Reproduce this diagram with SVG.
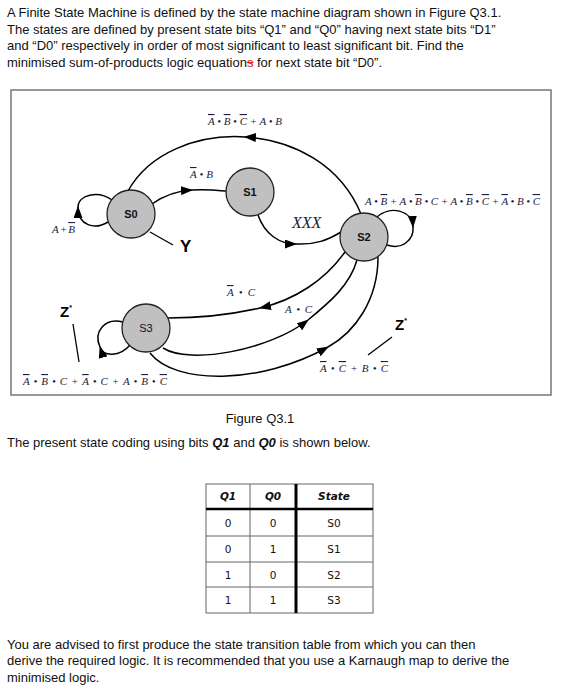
<svg xmlns="http://www.w3.org/2000/svg" width="580" height="690" viewBox="0 0 580 690">
<style>
.body{font-family:"Liberation Sans",Arial,sans-serif;font-size:13px;fill:#111}
.lbl{font-family:"Liberation Serif","Times New Roman",serif;font-style:italic;font-size:11px;fill:#1c1c3c}
.ov{text-decoration:overline}
.node circle{fill:#c0c0c0;stroke:#222;stroke-width:1.3}
.node text{font-family:"Liberation Sans",Arial,sans-serif;font-size:11px;font-weight:bold;fill:#111;text-anchor:middle}
.conn path{fill:none;stroke:#000;stroke-width:1.5}
.tick{stroke:#000;stroke-width:1.3}
.big{font-family:"Liberation Sans",Arial,sans-serif;font-weight:bold;fill:#000}
.tb{font-family:"DejaVu Sans",Verdana,sans-serif;font-size:10.5px;fill:#111;text-anchor:middle}
.tbh{font-weight:bold;font-style:italic}
.thin{stroke:#666;stroke-width:1;fill:none}
.thick{stroke:#000;stroke-width:3}
</style>
<defs>
<marker id="ah" viewBox="0 0 12 9" refX="11" refY="4.5" markerWidth="12" markerHeight="9" markerUnits="userSpaceOnUse" orient="auto">
<path d="M0,0 L12,4.5 L0,9 z" fill="#000"/>
</marker>
</defs>
<rect width="580" height="690" fill="#fff"/>

<g id="header" class="body">
<text x="7" y="17">A Finite State Machine is defined by the state machine diagram shown in Figure Q3.1.</text>
<text x="7" y="33.5">The states are defined by present state bits “Q1” and “Q0” having next state bits “D1”</text>
<text x="7" y="50">and “D0” respectively in order of most significant to least significant bit. Find the</text>
<text x="7" y="66.5">minimised sum-of-products logic equation<tspan fill="#e02020" style="text-decoration:line-through">s</tspan> for next state bit “D0”.</text>
</g>

<rect id="frame" x="11" y="90" width="540" height="305" fill="none" stroke="#777" stroke-width="1.5"/>

<g id="connectors" class="conn">
<path d="M108,222 C95,230 78,226 78,207" marker-end="url(#ah)"/>
<path d="M78,207 C78,195 98,190 112,200"/>
<path d="M152,204 C163,196 175,191 192,190" marker-end="url(#ah)"/>
<path d="M192,190 C205,189 215,190 226,191"/>
<path d="M361,214 C340.5,164.5 292.75,139.75 244.9,136.9" marker-end="url(#ah)"/>
<path d="M244.9,136.9 C197,134 149,153 128,191"/>
<path d="M258,215 C265,235 280,244 296,244" marker-end="url(#ah)"/>
<path d="M296,244 C315,245 328,240 341,232"/>
<path d="M377,217 C390,205 412,210 413,227" marker-end="url(#ah)"/>
<path d="M413,227 C414,240 402,250 387,245"/>
<path d="M345,252 C325,280 295,300 260,308" marker-end="url(#ah)"/>
<path d="M260,308 C225,316 195,318 168,318"/>
<path d="M163,348 C190,365 270,350 308,320" marker-end="url(#ah)"/>
<path d="M308,320 C330,302 350,285 357,260"/>
<path d="M150,353 C175,385 260,385 328,347" marker-end="url(#ah)"/>
<path d="M328,347 C355,332 378,300 378,257"/>
<path d="M130,345 C120,357 103,357 100,347" marker-end="url(#ah)"/>
<path d="M100,347 C93,332 105,317 123,322"/>
</g>

<g id="labels">
<text class="lbl" x="208" y="125" textLength="74" lengthAdjust="spacing"><tspan class="ov">A</tspan> • <tspan class="ov">B</tspan> • <tspan class="ov">C</tspan> + A • B</text>
<text class="lbl" x="190" y="178" textLength="23" lengthAdjust="spacing"><tspan class="ov">A</tspan> • B</text>
<text class="lbl" x="52" y="233" textLength="23" lengthAdjust="spacing">A + <tspan class="ov">B</tspan></text>
<text class="lbl" x="292" y="228" style="font-size:16px">XXX</text>
<text class="lbl" x="365" y="205" textLength="175" lengthAdjust="spacing">A • <tspan class="ov">B</tspan> + A • <tspan class="ov">B</tspan> • C + A • <tspan class="ov">B</tspan> • <tspan class="ov">C</tspan> + <tspan class="ov">A</tspan> • B • <tspan class="ov">C</tspan></text>
<text class="lbl" x="227" y="296" textLength="28" lengthAdjust="spacing"><tspan class="ov">A</tspan> • C</text>
<text class="lbl" x="285" y="313" textLength="27" lengthAdjust="spacing">A • C</text>
<text class="lbl" x="320" y="372" textLength="68" lengthAdjust="spacing"><tspan class="ov">A</tspan> • <tspan class="ov">C</tspan> + B • <tspan class="ov">C</tspan></text>
<text class="lbl" x="23" y="385" textLength="144" lengthAdjust="spacing"><tspan class="ov">A</tspan> • <tspan class="ov">B</tspan> • C + <tspan class="ov">A</tspan> • C + A • <tspan class="ov">B</tspan> • <tspan class="ov">C</tspan></text>
<text class="big" x="180" y="252" style="font-size:17px">Y</text>
<line class="tick" x1="150" y1="232" x2="173" y2="245"/>
<text class="big" x="60" y="317" style="font-size:15px">Z<tspan dy="-7" style="font-size:7px">*</tspan></text>
<line class="tick" x1="73" y1="324" x2="79" y2="362"/>
<text class="big" x="395" y="330" style="font-size:15px">Z<tspan dy="-7" style="font-size:7px">*</tspan></text>
<line class="tick" x1="392" y1="337" x2="368" y2="355"/>
</g>

<g id="S0" class="node"><circle cx="131" cy="214" r="24"/><text x="131" y="218">S0</text></g>
<g id="S1" class="node"><circle cx="250" cy="192" r="24"/><text x="250" y="196">S1</text></g>
<g id="S2" class="node"><circle cx="364" cy="237" r="24"/><text x="364" y="241">S2</text></g>
<g id="S3" class="node"><circle cx="146" cy="328" r="24"/><text x="146" y="332" style="font-weight:normal">S3</text></g>

<g id="captions" class="body">
<text x="260" y="423" text-anchor="middle">Figure Q3.1</text>
<text x="7" y="446.5">The present state coding using bits <tspan font-weight="bold" font-style="italic">Q1</tspan> and <tspan font-weight="bold" font-style="italic">Q0</tspan> is shown below.</text>
</g>

<g id="table">
<rect class="thin" x="206" y="484" width="167" height="129"/>
<line class="thin" x1="250" y1="484" x2="250" y2="613"/>
<line class="thin" x1="206" y1="536" x2="373" y2="536"/>
<line class="thin" x1="206" y1="562" x2="373" y2="562"/>
<line class="thin" x1="206" y1="587" x2="373" y2="587"/>
<line class="thick" x1="206" y1="509" x2="373" y2="509" style="stroke-width:2.5"/>
<line class="thick" x1="296" y1="484" x2="296" y2="613"/>
<text class="tb tbh" x="228" y="500">Q1</text>
<text class="tb tbh" x="273" y="500">Q0</text>
<text class="tb tbh" x="334" y="500">State</text>
<text class="tb" x="228" y="527">0</text><text class="tb" x="273" y="527">0</text><text class="tb" x="334" y="527">S0</text>
<text class="tb" x="228" y="553">0</text><text class="tb" x="273" y="553">1</text><text class="tb" x="334" y="553">S1</text>
<text class="tb" x="228" y="579">1</text><text class="tb" x="273" y="579">0</text><text class="tb" x="334" y="579">S2</text>
<text class="tb" x="228" y="604">1</text><text class="tb" x="273" y="604">1</text><text class="tb" x="334" y="604">S3</text>
</g>

<g id="footer" class="body">
<text x="7" y="648.5">You are advised to first produce the state transition table from which you can then</text>
<text x="7" y="665">derive the required logic. It is recommended that you use a Karnaugh map to derive the</text>
<text x="7" y="681.5">minimised logic.</text>
</g>
</svg>
